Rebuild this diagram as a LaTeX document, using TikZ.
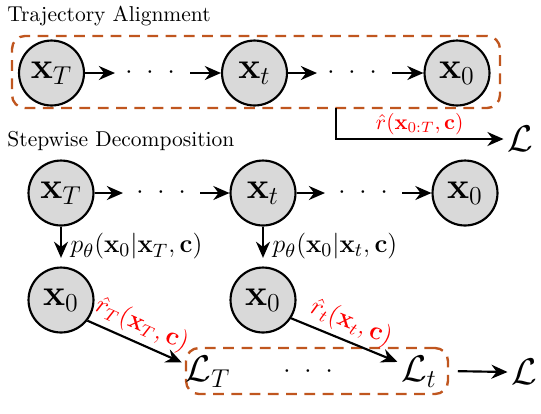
\documentclass[tikz,border=0pt]{standalone}
\usetikzlibrary{arrows.meta,calc}
\definecolor{boxorange}{HTML}{C0561F}
\begin{document}
\begin{tikzpicture}[x=0.465pt,y=-0.465pt,
  state/.style={circle,draw,fill=gray!30,line width=1pt,minimum size=30.2pt,inner sep=0pt,font=\LARGE},
  arr/.style={-{Stealth[length=7.5pt,width=6.5pt]},line width=1pt},
  dbox/.style={draw=boxorange,dash pattern=on 5pt off 3.5pt,line width=1.1pt,rounded corners=6pt,inner sep=0pt},
  ttl/.style={anchor=west,inner sep=0pt},
  dotsn/.style={inner sep=0pt,font=\large},
  lossn/.style={inner sep=1.5pt,font=\LARGE},
  rl/.style={text=red},
  plab/.style={font=\fontsize{13}{15}\selectfont}]
\useasboundingbox (0,0) rectangle (541,413);

% ---------- Trajectory Alignment ----------
\node[ttl] (title1) at (7,16) {Trajectory Alignment};
\node[dbox,minimum width=226.9pt,minimum height=33.5pt] (topbox) at (256,72) {};
\node[state] (aT) at (51.5,73) {$\mathbf{x}_T$};
\node[state] (at) at (254.5,73) {$\mathbf{x}_t$};
\node[state] (a0) at (457,73) {$\mathbf{x}_0$};
\coordinate (a1e) at (115,73);
\coordinate (a2s) at (190,73);
\coordinate (a3e) at (317,73);
\coordinate (a4s) at (392,73);
\node[dotsn] (ad1) at (150,73) {$\cdot$\hspace{6.5pt}$\cdot$\hspace{6.5pt}$\cdot$};
\node[dotsn] (ad2) at (352,73) {$\cdot$\hspace{6.5pt}$\cdot$\hspace{6.5pt}$\cdot$};
\draw[arr] (aT) -- (a1e);
\draw[arr] (a2s) -- (at);
\draw[arr] (at) -- (a3e);
\draw[arr] (a4s) -- (a0);
\coordinate (tc) at (336,108);
\node[lossn] (Ltop) at (520,139) {$\mathcal{L}$};
\draw[arr] (tc) |- node[pos=0.75,above,rl,inner sep=1.5pt] {$\hat{r}(\mathbf{x}_{0:T},\mathbf{c})$} (Ltop.west);

% ---------- Stepwise Decomposition ----------
\node[ttl] (title2) at (7,141) {Stepwise Decomposition};
\node[state] (bT) at (61,193) {$\mathbf{x}_T$};
\node[state] (bt) at (263,193) {$\mathbf{x}_t$};
\node[state] (b0) at (465,193) {$\mathbf{x}_0$};
\coordinate (b1e) at (123,193);
\coordinate (b2s) at (200,193);
\coordinate (b3e) at (325,193);
\coordinate (b4s) at (402,193);
\node[dotsn] (bd1) at (161,193) {$\cdot$\hspace{6.5pt}$\cdot$\hspace{6.5pt}$\cdot$};
\node[dotsn] (bd2) at (363,193) {$\cdot$\hspace{6.5pt}$\cdot$\hspace{6.5pt}$\cdot$};
\draw[arr] (bT) -- (b1e);
\draw[arr] (b2s) -- (bt);
\draw[arr] (bt) -- (b3e);
\draw[arr] (b4s) -- (b0);

\node[state] (cT) at (61,300) {$\mathbf{x}_0$};
\node[state] (ct) at (263,300) {$\mathbf{x}_0$};
\draw[arr,shorten >=4pt] (bT) -- node[right,plab,inner sep=1pt,xshift=3pt] {$p_\theta(\mathbf{x}_0|\mathbf{x}_T,\mathbf{c})$} (cT);
\draw[arr,shorten >=4pt] (bt) -- node[right,plab,inner sep=1pt,xshift=3pt] {$p_\theta(\mathbf{x}_0|\mathbf{x}_t,\mathbf{c})$} (ct);

\node[dbox,minimum width=121.8pt,minimum height=21.4pt] (botbox) at (317,371) {};
\node[lossn] (LT) at (208,372) {$\mathcal{L}_T$};
\node[dotsn] (ld) at (308,372) {$\cdot$\hspace{6.5pt}$\cdot$\hspace{6.5pt}$\cdot$};
\node[lossn] (Lt) at (419,372) {$\mathcal{L}_t$};
\node[lossn] (Lfin) at (524,372) {$\mathcal{L}$};
\draw[arr,shorten <=4pt] (botbox.east) -- (Lfin.west);

\draw[arr] (cT.-38) -- node[midway,above,sloped,rl,font=\large,inner sep=2pt] {$\hat{r}_T(\mathbf{x}_T,\mathbf{c})$} (LT.160);
\draw[arr] (ct.-33) -- node[midway,above,sloped,rl,font=\large,inner sep=2pt] {$\hat{r}_t(\mathbf{x}_t,\mathbf{c})$} (Lt.155);
\end{tikzpicture}
\end{document}
